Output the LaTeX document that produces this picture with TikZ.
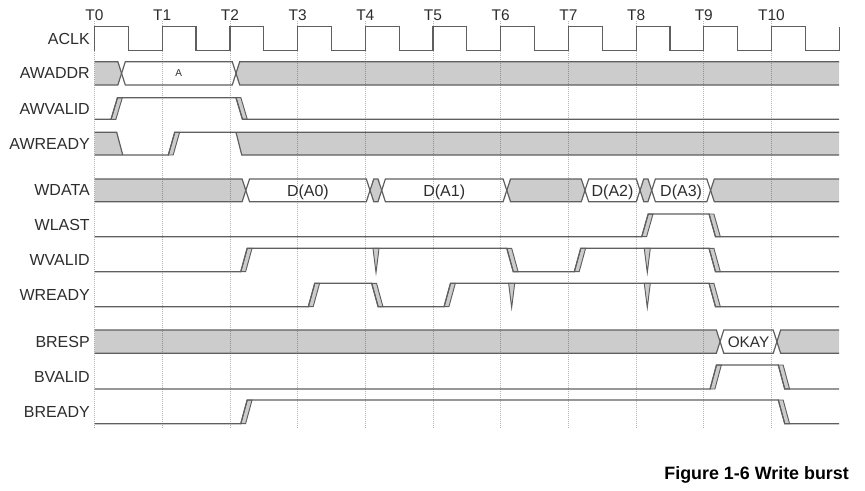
\documentclass[tikz,border=0pt]{standalone}
\usepackage{fontspec}
\setmainfont{Liberation Sans}

\definecolor{wave}{RGB}{95,95,95}
\definecolor{gridc}{RGB}{180,180,180}
\definecolor{txt}{RGB}{45,45,45}

\tikzset{
    sig/.style={draw=wave, line width=0.9pt, line join=miter},
    shaded/.style={fill=black, fill opacity=0.2},
    edge/.style={sig, shaded, line width=0.7pt},
    gridline/.style={draw=gridc, densely dotted, line width=0.5pt},
    siglabel/.style={anchor=east, inner sep=0pt, text=txt, font=\fontsize{12}{14}\selectfont},
    tick/.style={inner sep=0pt, text=txt, font=\fontsize{11.6}{14}\selectfont},
    buslabel/.style={inner sep=0pt, text depth=0pt, text=txt, font=\fontsize{12}{14}\selectfont},
    caption/.style={inner sep=0pt, text=black, font=\bfseries\fontsize{13.4}{16}\selectfont}
}

\newcommand{\ew}{0.072}
\newcommand{\es}{0.095}
\newcommand{\bh}{0.055}
\newcommand{\sigup}[1]{\filldraw[edge] (#1,\yl) -- ++(\ew,0) -- ({#1+\ew+\es},\yh) -- ({#1+\es},\yh) -- cycle;}
\newcommand{\sigdn}[1]{\filldraw[edge] (#1,\yh) -- ++(\ew,0) -- ({#1+\ew+\es},\yl) -- ({#1+\es},\yl) -- cycle;}
\newcommand{\glitch}[1]{\filldraw[edge] ({#1-0.045},\yh) -- ({#1+0.045},\yh) -- (#1,{\yl+1}) -- cycle;}
\newcommand{\busval}[4]{%
    \draw[sig] (#1,\ym) -- ({#1+\bh},\yh) -- ({#2-\bh},\yh) -- (#2,\ym) -- ({#2-\bh},\yl) -- ({#1+\bh},\yl) -- cycle;
    \node[buslabel] (#3) at ({(#1+#2)/2},\ym) {#4};}
\newcommand{\busgray}[2]{\filldraw[edge, line width=0.9pt] (#1,\ym) -- ({#1+\bh},\yh) -- ({#2-\bh},\yh) -- (#2,\ym) -- ({#2-\bh},\yl) -- ({#1+\bh},\yl) -- cycle;}
\newcommand{\busin}[1]{%
    \fill[shaded] (0,\yh) -- ({#1-\bh},\yh) -- (#1,\ym) -- ({#1-\bh},\yl) -- (0,\yl) -- cycle;
    \draw[sig] (0,\yh) -- ({#1-\bh},\yh) -- (#1,\ym) -- ({#1-\bh},\yl) -- (0,\yl);}
\newcommand{\busout}[1]{%
    \fill[shaded] (11,\yh) -- ({#1+\bh},\yh) -- (#1,\ym) -- ({#1+\bh},\yl) -- (11,\yl) -- cycle;
    \draw[sig] (11,\yh) -- ({#1+\bh},\yh) -- (#1,\ym) -- ({#1+\bh},\yl) -- (11,\yl);}

\begin{document}
\begin{tikzpicture}[x=50.775pt, y=-0.75pt]
    \useasboundingbox (-1.3959,0) rectangle (11.381,490);

    \foreach \k in {0,...,10} {
        \node[tick] (t\k) at (\k,15.3) {T\k};
        \draw[gridline] (t\k.south) -- (\k,428);
    }

    \foreach \n/\y in {ACLK/38.7, AWADDR/73.35, AWVALID/108.5, AWREADY/143.65,
                       WDATA/190.35, WLAST/225.35, WVALID/260, WREADY/295,
                       BRESP/341.65, BVALID/377, BREADY/411.85}
        \node[siglabel] (\n) at (-0.066,\y) {\n};

    % ACLK
    \draw[sig] (0,50.7) \foreach \k in {0,...,10} {
        -- (\k,26.7) -- ({\k+0.5},26.7) -- ({\k+0.5},50.7) -- ({\k+1},50.7)} -- (11,26.7);

    % AWADDR
    \def\yh{61.7}\def\yl{85}\def\ym{73.35}
    \busin{0.40}
    \busval{0.40}{2.09}{addr}{\fontsize{7.5}{9}\selectfont A}
    \busout{2.09}

    % AWVALID
    \def\yh{97.7}\def\yl{119.3}
    \draw[sig] (0,\yl) -- (0.244,\yl) -- ({0.244+\es},\yh) -- (2.09,\yh) -- ({2.09+\es},\yl) -- (11,\yl);
    \sigup{0.244} \sigdn{2.09}

    % AWREADY
    \def\yh{132.3}\def\yl{155}
    \fill[shaded] (0,\yh) -- (0.328,\yh) -- (0.417,\yl) -- (0,\yl) -- cycle;
    \fill[shaded] (2.09,\yh) -- (11,\yh) -- (11,\yl) -- (2.175,\yl) -- cycle;
    \draw[sig] (0,\yh) -- (0.328,\yh) -- (0.417,\yl);
    \draw[sig] (0,\yl) -- (1.09,\yl) -- ({1.09+\es},\yh) -- (11,\yh);
    \draw[sig] (2.09,\yh) -- (2.175,\yl) -- (11,\yl);
    \sigup{1.09}

    % WDATA
    \def\yh{179}\def\yl{201.7}\def\ym{190.35}
    \busin{2.235}
    \busval{2.235}{4.07}{da0}{D(A0)}
    \busgray{4.07}{4.242}
    \busval{4.242}{6.09}{da1}{D(A1)}
    \busgray{6.09}{7.245}
    \busval{7.245}{8.058}{da2}{D(A2)}
    \busgray{8.058}{8.23}
    \busval{8.23}{9.10}{da3}{D(A3)}
    \busout{9.10}

    % WLAST
    \def\yh{214}\def\yl{236.7}
    \draw[sig] (0,\yl) -- (8.083,\yl) -- ({8.083+\es},\yh) -- (9.077,\yh) -- ({9.077+\es},\yl) -- (11,\yl);
    \sigup{8.083} \sigdn{9.077}

    % WVALID
    \def\yh{248.3}\def\yl{271.7}
    \draw[sig] (0,\yl) -- (2.16,\yl) -- ({2.16+\es},\yh) -- (6.09,\yh) -- ({6.09+\es},\yl)
        -- (7.087,\yl) -- ({7.087+\es},\yh) -- (9.077,\yh) -- ({9.077+\es},\yl) -- (11,\yl);
    \sigup{2.16} \sigdn{6.09} \sigup{7.087} \sigdn{9.077}
    \glitch{4.158} \glitch{8.165}

    % WREADY
    \def\yh{283.3}\def\yl{306.7}
    \draw[sig] (0,\yl) -- (3.158,\yl) -- ({3.158+\es},\yh) -- (4.094,\yh) -- ({4.094+\es},\yl)
        -- (5.163,\yl) -- ({5.163+\es},\yh) -- (9.077,\yh) -- ({9.077+\es},\yl) -- (11,\yl);
    \sigup{3.158} \sigdn{4.094} \sigup{5.163} \sigdn{9.077}
    \glitch{6.162} \glitch{8.165}

    % BRESP
    \def\yh{330}\def\yl{353.3}\def\ym{341.65}
    \busin{9.24}
    \busval{9.24}{10.08}{okay}{\fontsize{11.5}{14}\selectfont OKAY}
    \busout{10.08}

    % BVALID
    \def\yh{365}\def\yl{389}
    \draw[sig] (0,\yl) -- (9.092,\yl) -- ({9.092+\es},\yh) -- (10.10,\yh) -- ({10.10+\es},\yl) -- (11,\yl);
    \sigup{9.092} \sigdn{10.10}

    % BREADY
    \def\yh{400}\def\yl{423.7}
    \draw[sig] (0,\yl) -- (2.16,\yl) -- ({2.16+\es},\yh) -- (10.10,\yh) -- ({10.10+\es},\yl) -- (11,\yl);
    \sigup{2.16} \sigdn{10.10}

    \node[caption, anchor=base east] (cap) at (11.145,479) {Figure 1-6 Write burst};
\end{tikzpicture}
\end{document}
